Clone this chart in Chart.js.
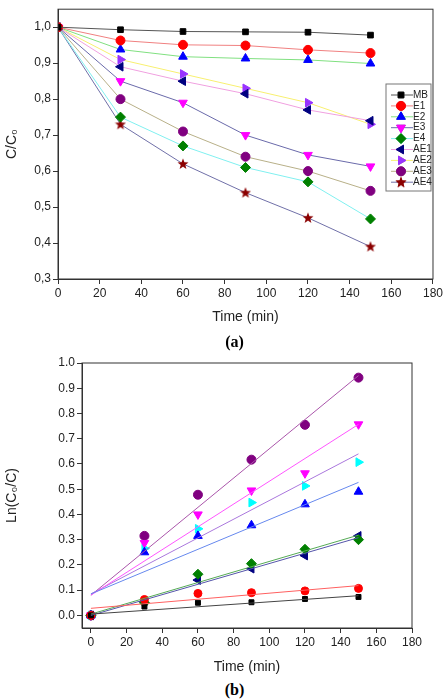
<!DOCTYPE html>
<html><head><meta charset="utf-8">
<script src="https://cdn.jsdelivr.net/npm/chart.js@4/dist/chart.umd.min.js"></script>
<style>
body{margin:0;width:445px;height:700px;background:#fff;position:relative;font-family:"Liberation Sans",Arial,sans-serif;overflow:hidden}
.c{position:absolute;left:0;width:445px;height:330px}
.lab{position:absolute;width:445px;text-align:center;font:bold 16px "Liberation Serif",serif;left:12px}
</style></head><body>
<div class="c" style="top:0"><canvas id="a"></canvas></div>
<div class="c" style="top:350px"><canvas id="b"></canvas></div>
<div class="lab" style="top:333px">(a)</div>
<div class="lab" style="top:681px">(b)</div>
<script>
// ---- data (a) ----
const timeA = [0,30,60,90,120,150];
const namesA = ['MB','E1','E2','E3','E4','AE1','AE2','AE3','AE4'];
const MB  = [1,0.993,0.988,0.987,0.986,0.978];
const E1a = [1,0.963,0.951,0.949,0.937,0.928];
const E2a = [1,0.938,0.918,0.913,0.909,0.899];
const E3a = [1,0.85,0.79,0.70,0.645,0.613];
const E4a = [1,0.75,0.67,0.61,0.57,0.467];
const AE1a = [1,0.89,0.85,0.815,0.77,0.74];
const AE2a = [1,0.91,0.87,0.83,0.79,0.73];
const AE3a = [1,0.80,0.71,0.64,0.60,0.545];
const AE4a = [1,0.73,0.62,0.54,0.47,0.39];
// ---- data (b) ----
const timeB = [0,30,60,90,120,150];
const namesB = ['E1','E2','E3','E4','AE1','AE2','AE3','AE4'];
const E1b = [0,0.035,0.05,0.052,0.065,0.073];
const E2b = [0,0.063,0.087,0.09,0.097,0.107];
const E3b = [0,0.25,0.315,0.357,0.44,0.49];
const E4b = [0,0.287,0.40,0.495,0.563,0.757];
const AE1b = [0,0.05,0.163,0.205,0.262,0.30];
const AE2b = [0,0.055,0.14,0.185,0.237,0.315];
const AE3b = [0,0.265,0.343,0.447,0.513,0.607];
const AE4b = [0,0.315,0.478,0.617,0.755,0.942];
// linear-fit line end values at t=0 and t=150
const fitT = [0,150];
const fitStart = [0.005,0.028,0.085,0.08,0.005,0.0,0.085,0.08];
const fitEnd   = [0.078,0.118,0.527,0.757,0.318,0.308,0.64,0.95];

function starImg(color){
  const c=document.createElement('canvas');c.width=12;c.height=12;const x=c.getContext('2d');
  x.fillStyle=color;x.beginPath();
  for(let i=0;i<10;i++){const r=i%2?2.4:5.8;const a=-Math.PI/2+i*Math.PI/5;x.lineTo(6+r*Math.cos(a),6.3+r*Math.sin(a));}
  x.closePath();x.fill();return c;
}
const star=starImg('#8b0000');

const boxPlugin={id:'box',afterDraw(ch){const a=ch.chartArea,c=ch.ctx;c.save();c.strokeStyle='#333';c.lineWidth=1;c.strokeRect(a.left,a.top,a.right-a.left,a.bottom-a.top);c.restore();}};
const legendPlugin={id:'leg',afterDraw(ch,args,o){
  const c=ch.ctx;c.save();c.fillStyle='#fff';c.strokeStyle='#777';c.lineWidth=1;
  c.fillRect(o.x,o.y,o.w,o.h);c.strokeRect(o.x,o.y,o.w,o.h);
  let row=0;
  ch.data.datasets.forEach((d)=>{ if(d.fit) return;
    const y=o.y+o.first+row*o.dy;
    if(o.line){c.strokeStyle=d.borderColor;c.lineWidth=1;c.beginPath();c.moveTo(o.x+5,y);c.lineTo(o.x+27,y);c.stroke();}
    Chart.helpers.drawPoint(c,{pointStyle:d.pointStyle,rotation:d.rotation||0,radius:d.pointRadius,borderWidth:1},o.mx,y);
    c.fillStyle=d.pointBackgroundColor;c.strokeStyle=d.pointBackgroundColor;
    c.beginPath();
    if(d.pointStyle instanceof HTMLCanvasElement){c.drawImage(d.pointStyle,o.mx-6,y-6);} else {
      Chart.helpers.drawPoint(c,{pointStyle:d.pointStyle,rotation:d.rotation||0,radius:d.pointRadius,borderWidth:1},o.mx,y);}
    c.fillStyle='#222';c.font='10px "Liberation Sans"';c.textBaseline='middle';c.fillText(namesX(ch)[row],o.tx,y);
    row++;});
  c.restore();}};
function namesX(ch){return ch.canvas.id==='a'?namesA:namesB;}

const stylesA=[
 ['rect',0,'#000','#555',4],['circle',0,'#ff0000','#f08080',4.5],['triangle',0,'#0000ff','#80e080',5],
 ['triangle',180,'#ff00ff','#6a6aaa',5],['rectRot',0,'#008000','#80f0f0',5],['triangle',-90,'#000080','#f0a0e0',5],
 ['triangle',90,'#9933ff','#f8f070',5],['circle',0,'#800080','#b8b088',4.5],[star,0,'#8b0000','#7070a8',5]];
const seriesA=[MB,E1a,E2a,E3a,E4a,AE1a,AE2a,AE3a,AE4a];
const dsA=seriesA.map((s,i)=>({label:namesA[i],data:s.map((v,j)=>({x:timeA[j],y:v})),showLine:true,
  pointStyle:stylesA[i][0],rotation:stylesA[i][1],pointBackgroundColor:stylesA[i][2],pointBorderColor:stylesA[i][2],
  backgroundColor:stylesA[i][2],borderColor:stylesA[i][3],borderWidth:1,pointRadius:stylesA[i][4]}));

const tickFont={family:'"Liberation Sans"',size:12};
function axes(xLeftW,xH,ymin,ymax,fmt,xmin){
 return {
  x:{type:'linear',min:xmin,max:180,afterBuildTicks(ax){ax.ticks=[0,20,40,60,80,100,120,140,160,180].map(v=>({value:v}));},
     ticks:{font:tickFont,color:'#222',maxRotation:0,padding:2},grid:{drawOnChartArea:false,tickLength:5,color:'#333'},border:{color:'#333'},
     title:{display:true,text:'Time (min)',font:{family:'"Liberation Sans"',size:14},color:'#222',padding:{top:4}},
     afterFit(s){s.height=xH;}},
  y:{min:ymin,max:ymax,afterBuildTicks(ax){const t=[];for(let v=Math.ceil(ymin*10-1e-6);v<=Math.floor(ymax*10+1e-6);v++)t.push({value:v/10});ax.ticks=t;},
     ticks:{font:tickFont,color:'#222',callback:fmt,padding:2},grid:{drawOnChartArea:false,tickLength:5,color:'#333'},border:{color:'#333'},
     afterFit(s){s.width=xLeftW;}}
 };
}
const axA=axes(58,51,0.3,1.05,v=>v.toFixed(1).replace('.',','),0);
axA.y.title={display:true,text:'C/C₀',font:{family:'"Liberation Sans"',size:14},color:'#222',padding:{bottom:4}};
new Chart(document.getElementById('a'),{type:'scatter',data:{datasets:dsA},
 options:{responsive:true,maintainAspectRatio:false,animation:false,layout:{padding:{top:2,right:11,left:0,bottom:0}},
  scales:axA,plugins:{legend:{display:false},tooltip:{enabled:false},
   leg:{x:386,y:84,w:45,h:107,first:11,dy:10.9,line:true,mx:401,tx:413}}},
 plugins:[boxPlugin,legendPlugin]});

const stylesB=[
 ['rect',0,'#000','#444',3.5],['circle',0,'#ff0000','#ff6060',4],['triangle',0,'#0000ff','#6688ee',5],
 ['triangle',180,'#ff00ff','#ff55ff',5],['rectRot',0,'#008000','#55aa55',5],['triangle',-90,'#000080','#5555aa',5],
 ['triangle',90,'#00ffff','#aa77dd',5],['circle',0,'#800080','#aa55aa',4.5]];
const seriesB=[E1b,E2b,E3b,E4b,AE1b,AE2b,AE3b,AE4b];
const dsB=[];
seriesB.forEach((s,i)=>{dsB.push({fit:true,label:'fit',data:fitT.map((t,j)=>({x:t,y:j?fitEnd[i]:fitStart[i]})),showLine:true,pointRadius:0,borderColor:stylesB[i][3],borderWidth:1});});
seriesB.forEach((s,i)=>{dsB.push({label:namesB[i],data:s.map((v,j)=>({x:timeB[j],y:v})),showLine:false,
  pointStyle:stylesB[i][0],rotation:stylesB[i][1],pointBackgroundColor:stylesB[i][2],pointBorderColor:stylesB[i][2],
  backgroundColor:stylesB[i][2],borderColor:stylesB[i][2],pointRadius:stylesB[i][4]});});
const axB=axes(82,52,-0.05,1.0,v=>v.toFixed(1),-5);
axB.y.title={display:true,text:'Ln(C₀/C)',font:{family:'"Liberation Sans"',size:14},color:'#222',padding:{bottom:4}};
new Chart(document.getElementById('b'),{type:'scatter',data:{datasets:dsB},
 options:{responsive:true,maintainAspectRatio:false,animation:false,layout:{padding:{top:13,right:33,left:0,bottom:0}},
  scales:axB,plugins:{legend:{display:false},tooltip:{enabled:false},
   leg:{x:367,y:363,w:43,h:94,first:7,dy:11.5,line:false,mx:378,tx:391}}},
 plugins:[boxPlugin,legendPlugin]});
</script></body></html>
